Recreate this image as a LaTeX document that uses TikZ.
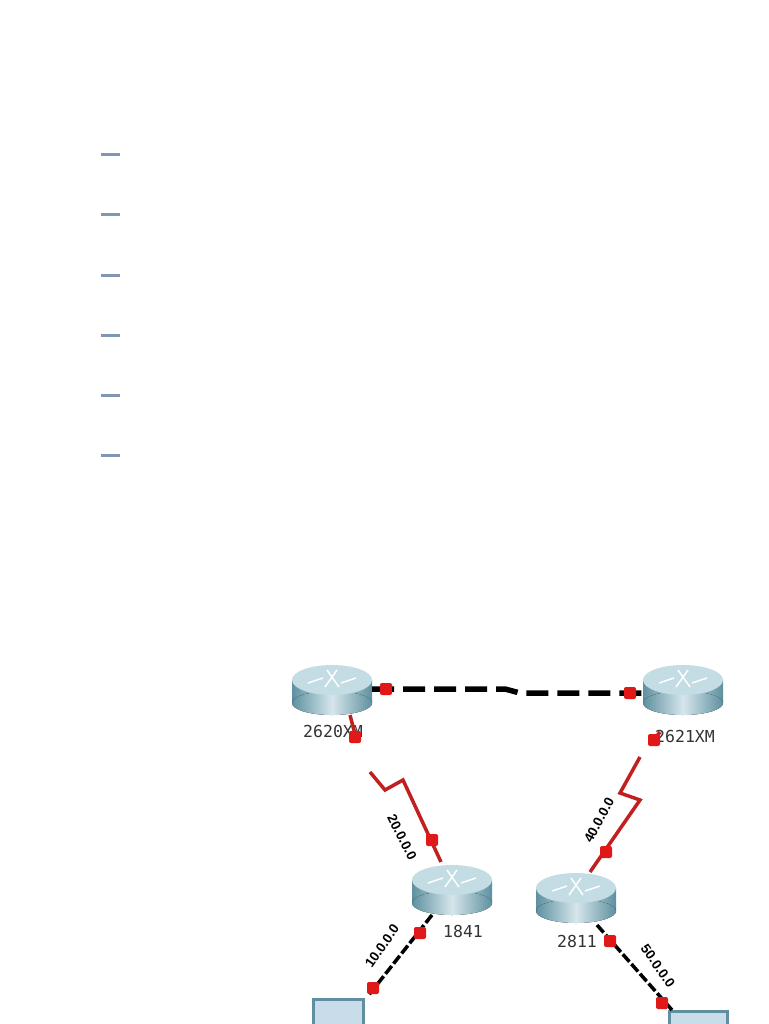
\documentclass[tikz,border=0pt]{standalone}
\usepackage{fontspec}
\setmainfont{DejaVu Sans Mono}
\newfontfamily\lblfont{Liberation Sans}
\begin{document}
\begin{tikzpicture}[x=1pt,y=-1pt,
  bullet/.style={draw=bulletc,line width=3pt},
  eth/.style={draw=black,line width=5.5pt,dash pattern=on 22pt off 9pt},
  ser/.style={draw=serc,line width=3.5pt},
  port/.style={fill=portc,draw=none,minimum size=12pt,inner sep=0pt,rounded corners=2pt},
  rname/.style={font=\fontsize{16.5}{16}\selectfont,text=black!80},
  netlbl/.style={font=\lblfont\bfseries\fontsize{13.5}{13}\selectfont},
  pc/.style={draw=pcedge,line width=3pt,fill=pcfill}]
\definecolor{bulletc}{HTML}{8096B4}
\definecolor{serc}{HTML}{C02020}
\definecolor{portc}{HTML}{E01818}
\definecolor{rtop}{HTML}{C4DCE4}
\definecolor{rside}{HTML}{5E909F}
\definecolor{pcedge}{HTML}{5F8FA0}
\definecolor{pcfill}{HTML}{C8DCEA}
\useasboundingbox (0,0) rectangle (768,1024);
\fill[white] (0,0) rectangle (768,1024);
% bullets
\foreach \y [count=\i] in {155,215,275,335,395,455}
  \draw[bullet] (101,\y) -- (120,\y);
% router macro
\newcommand{\router}[3]{%
  \coordinate (#1) at (#2,#3);
  \fill[left color=rside,right color=rside,middle color=rtop!70] (#2-40,#3-10) rectangle (#2+40,#3+13);
  \fill[left color=rside,right color=rside,middle color=rtop!70] (#2,#3+13) ellipse (40 and 12);
  \fill[rtop] (#2,#3-10) ellipse (40 and 15);
  \draw[white,line width=1.5pt] (#2-24,#3-7) -- (#2-9,#3-12) (#2+9,#3-7) -- (#2+24,#3-12)
    (#2-5,#3-20) -- (#2+7,#3-3) (#2+5,#3-20) -- (#2-7,#3-3);
}
\router{r2620}{332}{690}
\router{r2621}{683}{690}
\router{r1841}{452}{890}
\router{r2811}{576}{898}
\node[rname] (l2620) at (333,731) {2620XM};
\node[rname] (l2621) at (685,736) {2621XM};
\node[rname] (l1841) at (463,931) {1841};
\node[rname] (l2811) at (577,941) {2811};
% PCs
\node[pc,minimum width=50pt,minimum height=40pt,anchor=north west] (pc1) at (312,998) {};
\node[pc,minimum width=58pt,minimum height=40pt,anchor=north west] (pc2) at (668,1010) {};
\fill[white] (0,1025) rectangle (768,1040);
% top ethernet
\coordinate (e1) at (372,689);
\coordinate (e2) at (643,693);
\draw[eth] (e1) -- (505,689) -- (520,693) -- (e2);
\node[port] (p1) at (386,689) {};
\node[port] (p2) at (630,693) {};
% serial 2620-1841
\coordinate (s1a) at (350,715);
\coordinate (s1b) at (370,772);
\coordinate (s1c) at (441,862);
\draw[ser] (s1a) -- (356,738);
\draw[ser] (s1b) -- (385,790) -- (403,780) -- (s1c);
\node[port] (p3) at (355,737) {};
\node[port] (p4) at (432,840) {};
% serial 2621-2811
\coordinate (s2a) at (660,732);
\coordinate (s2b) at (640,757);
\coordinate (s2c) at (590,872);
\draw[ser] (s2a) -- (652,742);
\draw[ser] (s2b) -- (620,793) -- (640,800) -- (s2c);
\node[port] (p5) at (654,740) {};
\node[port] (p6) at (606,852) {};
% PC links
\draw[black,line width=3.5pt,dash pattern=on 10pt off 3pt] (432,915) -- (368,996);
\node[port] (p7) at (420,933) {};
\node[port] (p8) at (373,988) {};
\draw[black,line width=3.5pt,dash pattern=on 10pt off 3pt] (597,925) -- (672,1010);
\node[port] (p9) at (610,941) {};
\node[port] (p10) at (662,1003) {};
% network labels
\node[netlbl,rotate=-63] (n20) at (402,837) {20.0.0.0};
\node[netlbl,rotate=62] (n40) at (599,820) {40.0.0.0};
\node[netlbl,rotate=55] (n10) at (382,946) {10.0.0.0};
\node[netlbl,rotate=-55] (n50) at (658,966) {50.0.0.0};
\end{tikzpicture}
\end{document}
